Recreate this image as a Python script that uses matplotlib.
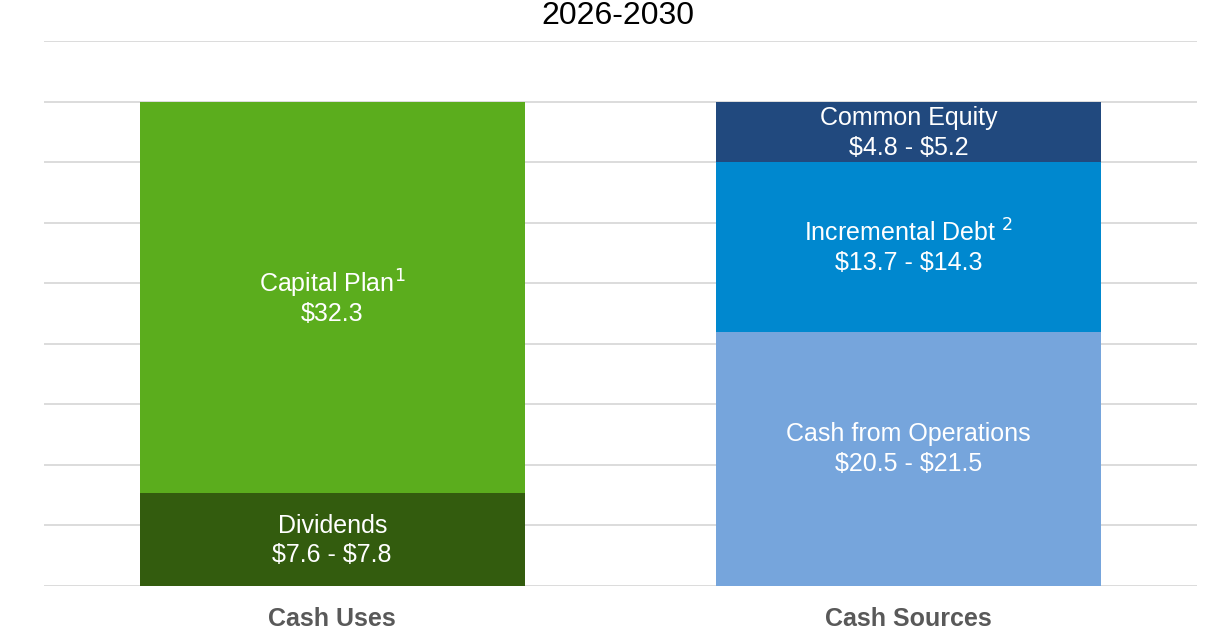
import matplotlib.pyplot as plt

plt.rcParams['font.family'] = ['Liberation Sans', 'DejaVu Sans']

categories = ['Cash Uses', 'Cash Sources']

# Cash uses (bottom to top)
uses_names = ['Dividends', 'Capital Plan$^{1}$']
uses_values = [7.7, 32.3]
uses_labels = ['$7.6 - $7.8', '$32.3']
uses_colors = ['#335C0E', '#5BAD1D']

# Cash sources (bottom to top)
src_names = ['Cash from Operations', 'Incremental Debt $^{2}$', 'Common Equity']
src_values = [21.0, 14.0, 5.0]
src_labels = ['$20.5 - $21.5', '$13.7 - $14.3', '$4.8 - $5.2']
src_colors = ['#76A5DC', '#0088CF', '#21497E']
# label nudges (data units), ops label sits a bit above centre
src_nudge = [0.8, -0.1, -0.1]
uses_nudge = [-0.1, -0.15]

fig = plt.figure(figsize=(12.16, 6.31), dpi=100)
ax = fig.add_axes([44 / 1216, 45 / 631, 1153 / 1216, 545 / 631])

width = 0.668


def stack(ax, x, names, values, labels, colors, nudge):
    bottom = 0
    for name, v, lab, c, dy in zip(names, values, labels, colors, nudge):
        ax.bar(x, v, width=width, bottom=bottom, color=c, zorder=2)
        mid = bottom + v / 2 + dy
        ax.text(x, mid + 1.22, name, ha='center', va='center', color='white', fontsize=18, zorder=3)
        ax.text(x, mid - 1.22, lab.replace('$', r'\$'), ha='center', va='center', color='white',
                fontsize=18, zorder=3)
        bottom += v


stack(ax, 0, uses_names, uses_values, uses_labels, uses_colors, uses_nudge)
stack(ax, 1, src_names, src_values, src_labels, src_colors, src_nudge)

ax.set_xlim(-0.5, 1.5)
ax.set_ylim(0, 45)
ax.set_yticks(range(0, 46, 5))
ax.yaxis.grid(True, color='#D9D9D9', linewidth=1.3, zorder=0)
ax.tick_params(axis='y', length=0, labelleft=False)
ax.tick_params(axis='x', length=0, pad=15)
ax.set_xticks([0, 1])
ax.set_xticklabels(categories, fontsize=18, fontweight='bold', color='#595959')
for s in ax.spines.values():
    s.set_visible(False)

fig.text(618 / 1216, 1 - 16 / 631, '2026-2030', ha='center', va='center', fontsize=23)

fig.savefig('out.png', dpi=100)
